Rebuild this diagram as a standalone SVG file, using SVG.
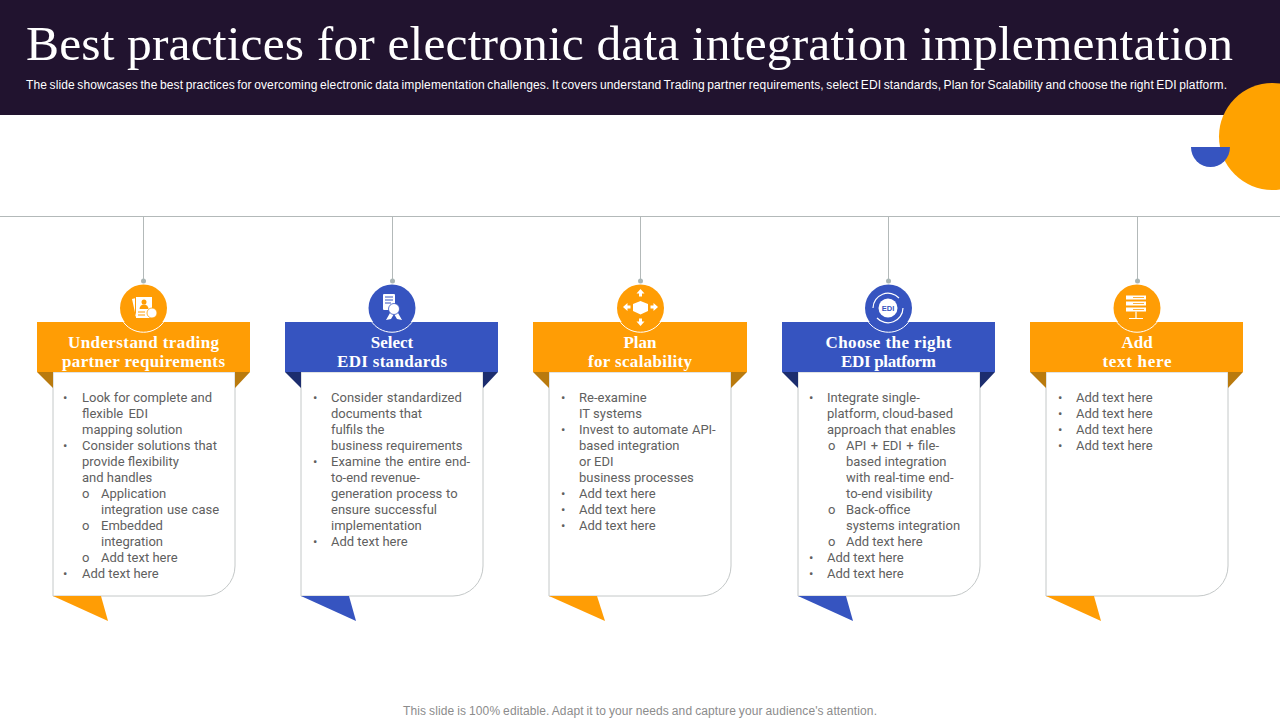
<svg xmlns="http://www.w3.org/2000/svg" width="1280" height="720" viewBox="0 0 1280 720">
<defs>
<style>
.title{font:400 49.5px "Liberation Serif",serif;fill:#fff}
.sub{font:400 12px "Liberation Sans",Arial,sans-serif;fill:#fff;word-spacing:-1px}
.foot{font:400 12px "Liberation Sans",Arial,sans-serif;fill:#8c8c8c;word-spacing:-.5px}
.h{font:700 17px "Liberation Serif",serif;fill:#fff;text-anchor:middle}
.b{font:400 13px Roboto,"Liberation Sans",sans-serif;fill:#606060}
.body{fill:#fff;stroke:#c4c8c8;stroke-width:1}
.conn{stroke:#b3b9b9;stroke-width:1;fill:none}
.dot{fill:#a9b5b5}
.o{fill:#ff9d05}.bl{fill:#3654c0}.od{fill:#b97a0e}.bd{fill:#1c2d6e}
.ring{fill:none;stroke:#fff;stroke-width:1}
.w{fill:#fff}
.wl{fill:none;stroke:#fff;stroke-width:1.2}
</style>
<path id="card" class="body" d="M16 50V274H168A30 30 0 0 0 198 244V50Z"/>
</defs>
<g id="background">
<rect width="1280" height="720" fill="#fff"/>
<rect id="banner" width="1280" height="115" fill="#21132f"/>
<circle cx="1272.5" cy="136.5" r="53.5" fill="#ffa200"/>
<path class="bl" d="M1191 147H1230A19.5 20 0 0 1 1191 147Z"/>
<text class="title" x="26" y="60" textLength="1207" lengthAdjust="spacing">Best practices for electronic data integration implementation</text>
<text class="sub" x="26" y="89" textLength="1201" lengthAdjust="spacing">The slide showcases the best practices for overcoming electronic data implementation challenges. It covers understand Trading partner requirements, select EDI standards, Plan for Scalability and choose the right EDI platform.</text>
</g>
<g id="connectors">
<path class="conn" d="M0 216.500H1280"/>
<path class="conn" d="M143.500 217V281M392.500 217V281M640.500 217V281M888.500 217V281M1137.500 217V281"/>
<circle class="dot" cx="143.500" cy="281" r="2.500"/><circle class="dot" cx="392.500" cy="281" r="2.500"/><circle class="dot" cx="640.500" cy="281" r="2.500"/><circle class="dot" cx="888.500" cy="281" r="2.500"/><circle class="dot" cx="1137.500" cy="281" r="2.500"/>
</g>
<g id="node1" transform="translate(37 322)">
<use href="#card"/>
<rect class="o" width="213" height="50"/>
<path class="od" d="M0 50H16V66Z"/><path class="od" d="M213 50H198V66Z"/>
<path class="o" d="M16 274H64L71 299Z"/>
<circle class="o" cx="106.500" cy="-14" r="23.500"/>
<path class="ring" d="M85 -2A25 25 0 0 0 128 -2"/>
<path class="w" d="M95 -23l3 -.7V-6.500l1 1.500z"/>
<rect class="w" x="99" y="-25" width="16" height="21"/>
<circle cx="107" cy="-20" r="2.500" fill="#ff9d05"/><path d="M102.500 -13a4.500 4.500 0 0 1 9 0z" fill="#ff9d05"/>
<path d="M101 -10h7M101 -7h7" stroke="#ff9d05" stroke-width="1"/>
<circle class="w" cx="115" cy="-9" r="5" stroke="#ff9d05" stroke-width=".8"/>
<text class="h" x="106.500" y="26" textLength="151">Understand trading</text>
<text class="h" x="106.500" y="45" textLength="163">partner requirements</text>
<g class="b">
<text x="26" y="80">•</text><text x="45" y="80">Look for complete and</text>
<text x="45" y="96" word-spacing="2">flexible EDI</text>
<text x="45" y="112">mapping solution</text>
<text x="26" y="128">•</text><text x="45" y="128" word-spacing=".5">Consider solutions that</text>
<text x="45" y="144">provide flexibility</text>
<text x="45" y="160">and handles</text>
<text x="45" y="176">o</text><text x="64" y="176">Application</text>
<text x="64" y="192" word-spacing=".7">integration use case</text>
<text x="45" y="208">o</text><text x="64" y="208">Embedded</text>
<text x="64" y="224">integration</text>
<text x="45" y="240">o</text><text x="64" y="240">Add text here</text>
<text x="26" y="256">•</text><text x="45" y="256">Add text here</text>
</g>
</g>
<g id="node2" transform="translate(285 322)">
<use href="#card"/>
<rect class="bl" width="213" height="50"/>
<path class="bd" d="M0 50H16V66Z"/><path class="bd" d="M213 50H198V66Z"/>
<path class="bl" d="M16 274H64L71 299Z"/>
<circle class="bl" cx="107" cy="-14" r="23.500"/>
<path class="ring" d="M85.500 -2A25 25 0 0 0 128.500 -2"/>
<rect class="w" x="98" y="-28" width="12" height="16" rx="1"/>
<path d="M100 -25h8M100 -22h8M100 -19h6" stroke="#3654c0" stroke-width="1"/>
<path class="w" d="M105 -9l-4 7 5-1 3-5zM113 -9l4 7-5-1-3-5z"/>
<circle class="w" cx="109" cy="-13" r="5.500" stroke="#3654c0" stroke-width=".8"/>
<text class="h" x="107" y="26">Select</text>
<text class="h" x="107" y="45" textLength="110">EDI standards</text>
<g class="b">
<text x="28" y="80">•</text><text x="46" y="80" word-spacing="1">Consider standardized</text>
<text x="46" y="96">documents that</text>
<text x="46" y="112">fulfils the</text>
<text x="46" y="128">business requirements</text>
<text x="28" y="144">•</text><text x="46" y="144" word-spacing="1.300">Examine the entire end-</text>
<text x="46" y="160">to-end revenue-</text>
<text x="46" y="176" word-spacing=".5">generation process to</text>
<text x="46" y="192" word-spacing="1">ensure successful</text>
<text x="46" y="208">implementation</text>
<text x="28" y="224">•</text><text x="46" y="224">Add text here</text>
</g>
</g>
<g id="node3" transform="translate(533 322)">
<use href="#card"/>
<rect class="o" width="214" height="50"/>
<path class="od" d="M0 50H16V66Z"/><path class="od" d="M214 50H198V66Z"/>
<path class="o" d="M16 274H64L72 299Z"/>
<circle class="o" cx="107.500" cy="-14" r="23.500"/>
<path class="ring" d="M86 -2A25 25 0 0 0 129 -2"/>
<path class="w" d="M100 -18l7.500 -3 7.500 3v7l-7.500 3.500-7.500-3.500z"/>
<path class="w" d="M107.500 -33l4 4.500h-2.500v3h-3v-3h-2.500zM107.500 4l4-4.500h-2.500v-3h-3v3h-2.500zM90 -15l4.500-4v2.500h3v3h-3v2.500zM125 -15l-4.500-4v2.500h-3v3h3v2.500z"/>
<text class="h" x="107" y="26">Plan</text>
<text class="h" x="107" y="45" textLength="104">for scalability</text>
<g class="b">
<text x="28" y="80">•</text><text x="46" y="80">Re-examine</text>
<text x="46" y="96">IT systems</text>
<text x="28" y="112">•</text><text x="46" y="112" word-spacing=".5">Invest to automate API-</text>
<text x="46" y="128">based integration</text>
<text x="46" y="144">or EDI</text>
<text x="46" y="160">business processes</text>
<text x="28" y="176">•</text><text x="46" y="176">Add text here</text>
<text x="28" y="192">•</text><text x="46" y="192">Add text here</text>
<text x="28" y="208">•</text><text x="46" y="208">Add text here</text>
</g>
</g>
<g id="node4" transform="translate(782 322)">
<use href="#card"/>
<rect class="bl" width="213" height="50"/>
<path class="bd" d="M0 50H16V66Z"/><path class="bd" d="M213 50H198V66Z"/>
<path class="bl" d="M16 274H64L71 299Z"/>
<circle class="bl" cx="106.500" cy="-14" r="23.500"/>
<path class="ring" d="M85 -2A25 25 0 0 0 128 -2"/>
<circle class="w" cx="106" cy="-14" r="9.500"/>
<path class="wl" d="M91 -14a15 15 0 0 1 26-10M121 -14a15 15 0 0 1-26 10"/>
<text x="106" y="-11" text-anchor="middle" style="font:700 7.500px 'Liberation Sans',sans-serif;fill:#3654c0">EDI</text>
<text class="h" x="106.500" y="26" textLength="126">Choose the right</text>
<text class="h" x="106.500" y="45" textLength="95">EDI platform</text>
<g class="b">
<text x="27" y="80">•</text><text x="45" y="80">Integrate single-</text>
<text x="45" y="96">platform, cloud-based</text>
<text x="45" y="112">approach that enables</text>
<text x="46" y="128">o</text><text x="64" y="128" word-spacing="1.200">API + EDI + file-</text>
<text x="64" y="144">based integration</text>
<text x="64" y="160" word-spacing=".5">with real-time end-</text>
<text x="64" y="176">to-end visibility</text>
<text x="46" y="192">o</text><text x="64" y="192">Back-office</text>
<text x="64" y="208">systems integration</text>
<text x="46" y="224">o</text><text x="64" y="224">Add text here</text>
<text x="27" y="240">•</text><text x="45" y="240">Add text here</text>
<text x="27" y="256">•</text><text x="45" y="256">Add text here</text>
</g>
</g>
<g id="node5" transform="translate(1030 322)">
<use href="#card"/>
<rect class="o" width="213" height="50"/>
<path class="od" d="M0 50H16V66Z"/><path class="od" d="M213 50H198V66Z"/>
<path class="o" d="M16 274H64L71 299Z"/>
<circle class="o" cx="107" cy="-14" r="23.500"/>
<path class="ring" d="M85.500 -2A25 25 0 0 0 128.500 -2"/>
<path class="w" d="M96 -26.500h20v4h-20zM96 -20.500h20v4h-20zM96 -14.500h20v4h-20z"/>
<path d="M103 -24.500h11M103 -18.500h11M103 -12.500h11" stroke="#ff9d05" stroke-width=".8"/>
<path class="wl" d="M106 -10.500V-4M99 -3.500H113"/>
<text class="h" x="107" y="26">Add</text>
<text class="h" x="107" y="45" textLength="69">text here</text>
<g class="b">
<text x="28" y="80">•</text><text x="46" y="80">Add text here</text>
<text x="28" y="96">•</text><text x="46" y="96">Add text here</text>
<text x="28" y="112">•</text><text x="46" y="112">Add text here</text>
<text x="28" y="128">•</text><text x="46" y="128">Add text here</text>
</g>
</g>
<text class="foot" x="403" y="715" textLength="474" lengthAdjust="spacing">This slide is 100% editable. Adapt it to your needs and capture your audience's attention.</text>
</svg>
